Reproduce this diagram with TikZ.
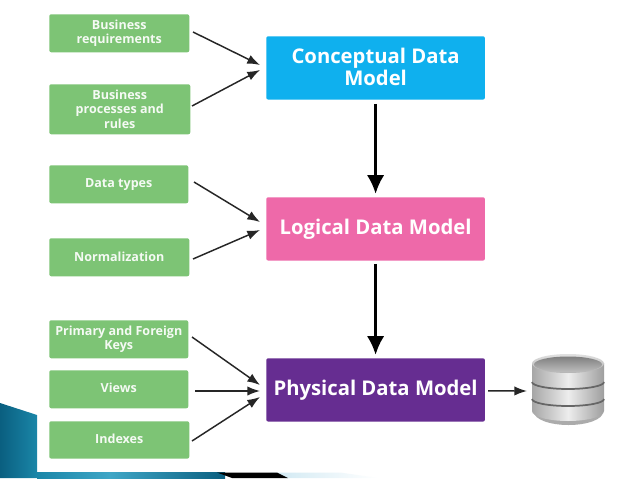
\documentclass[tikz,border=0pt]{standalone}
\usepackage{fontspec}
\setmainfont{Open Sans}
\usetikzlibrary{arrows.meta,positioning}
\definecolor{gbox}{HTML}{7DC475}
\definecolor{cblue}{HTML}{0FB0EE}
\definecolor{lpink}{HTML}{EE69A9}
\definecolor{pphys}{HTML}{662D91}
\definecolor{tealA}{HTML}{0A5F80}
\definecolor{tealB}{HTML}{1A86A8}
\definecolor{tealC}{HTML}{3FA6C6}
\definecolor{paleB}{HTML}{CFE8F2}
\tikzset{
 greenbox/.style={fill=gbox,rounded corners=1.5pt,text=white!92!gbox,font=\bfseries\fontsize{9.4pt}{11pt}\selectfont,align=center,inner sep=0pt,anchor=north west},
 modelbox/.style={rounded corners=1.5pt,text=white,font=\bfseries\fontsize{15.2pt}{16.5pt}\selectfont,align=center,inner sep=0pt,anchor=north west,minimum width=164pt,minimum height=47.5pt},
 thin arrow/.style={draw=black!85,line width=1.1pt,-{Latex[length=9.5pt,width=7pt]}},
 thick arrow/.style={draw=black,line width=2.1pt,-{Latex[length=14pt,width=13pt]}},
}
\begin{document}
\begin{tikzpicture}[x=0.75pt,y=-0.75pt]
\useasboundingbox (0,0) rectangle (638,478);
% slide decoration
\fill[white] (0,0) rectangle (638,478);
\shade[left color=tealA,right color=tealB] (0,403) -- (37,415) -- (37,478) -- (0,478) -- cycle;
\shade[left color=tealB,right color=tealC] (37,472.5) rectangle (110,478);
\shade[left color=tealC,right color=tealA] (110,472.5) rectangle (225,478);
\shade[left color=paleB,right color=white] (270,472.5) -- (340,472.5) -- (378,478) -- (285,478) -- cycle;
\fill[black] (217,472.5) -- (277,472.5) -- (288,478) -- (232,478) -- cycle;
% green boxes
\node[greenbox,minimum width=105pt,minimum height=28.5pt] (req) at (49,14) {Business\\requirements};
\node[greenbox,minimum width=105.75pt,minimum height=37.5pt] (proc) at (49,84) {Business\\processes and\\rules};
\node[greenbox,minimum width=104.25pt,minimum height=28.5pt] (types) at (49,165) {Data types};
\node[greenbox,minimum width=105pt,minimum height=28.5pt] (norm) at (49,238) {Normalization};
\node[greenbox,minimum width=104.25pt,minimum height=28.5pt] (keys) at (49,320) {Primary and Foreign\\Keys};
\node[greenbox,minimum width=104.25pt,minimum height=28.5pt] (views) at (49,370) {\raisebox{1.8pt}{Views}};
\node[greenbox,minimum width=105pt,minimum height=28pt] (idx) at (49,421) {\raisebox{2.2pt}{Indexes}};
% model boxes
\node[modelbox,fill=cblue] (concept) at (266,36) {\raisebox{1.8pt}{Conceptual Data}\\\raisebox{1.8pt}{Model}};
\node[modelbox,fill=lpink] (logical) at (266,197) {\raisebox{-0.8pt}{Logical Data Model}};
\node[modelbox,fill=pphys] (physical) at (266,358) {\raisebox{-0.8pt}{Physical Data Model}};
% arrow ends
\coordinate (a1) at (193,32); \coordinate (a1e) at (260,65);
\coordinate (a2) at (192,106); \coordinate (a2e) at (260,70);
\coordinate (a3) at (194,182); \coordinate (a3e) at (260,222);
\coordinate (a4) at (193,259); \coordinate (a4e) at (260,230);
\coordinate (a5) at (192,337); \coordinate (a5e) at (260,385);
\coordinate (a6) at (195,391); \coordinate (a6e) at (260,391);
\coordinate (a7) at (192,441); \coordinate (a7e) at (260,397);
\foreach \s in {1,...,7} \draw[thin arrow] (a\s) -- (a\s e);
\draw[thick arrow] (concept.south) ++(0,4) -- ++(0,90);
\draw[thick arrow] (logical.south) ++(0,3) -- ++(0,91);
% database
\fill[black!60,opacity=.55] (534,412) -- (603,412) arc[start angle=0,end angle=-180,x radius=34.5,y radius=-13] -- cycle;
\shade[left color=black!35,right color=black!38,middle color=black!7] (532,363) -- (532,411) arc[start angle=180,end angle=360,x radius=36,y radius=-10] -- (604,363) -- cycle;
\shade[top color=black!12,bottom color=black!30] (568,363.5) ellipse[x radius=36,y radius=9.5];
\shade[top color=black!50,bottom color=black!25] (568,364.5) ellipse[x radius=34,y radius=8];
\draw[black!60,line width=1.3pt] (532,382) arc[start angle=180,end angle=360,x radius=36,y radius=-7];
\draw[black!60,line width=1.3pt] (532,399) arc[start angle=180,end angle=360,x radius=36,y radius=-7];
\draw[thin arrow] (physical.east) ++(3,1) -- (527,391);
\end{tikzpicture}
\end{document}
